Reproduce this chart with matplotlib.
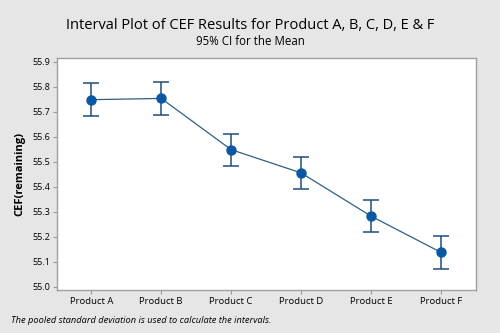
import matplotlib
matplotlib.use("Agg")
import matplotlib.pyplot as plt
import numpy as np

products = ["Product A", "Product B", "Product C", "Product D", "Product E", "Product F"]
means = [55.748, 55.753, 55.548, 55.455, 55.282, 55.137]
ci_half = [0.065, 0.065, 0.064, 0.064, 0.064, 0.065]
yticks = [55.0, 55.1, 55.2, 55.3, 55.4, 55.5, 55.6, 55.7, 55.8, 55.9]

plt.rcParams['font.family'] = ['Open Sans', 'DejaVu Sans']

fig = plt.figure(figsize=(5, 3.33), dpi=100, facecolor='#e6e6e6')
ax = fig.add_axes([0.114, 0.128, 0.838, 0.698])
ax.set_facecolor('white')

x = np.arange(len(products))
ax.plot(x, means, color='#2e5f85', lw=0.9, zorder=2)
ax.errorbar(x, means, yerr=ci_half, fmt='none', ecolor='#1f4e79',
            elinewidth=1.1, capsize=6, capthick=1.1, zorder=3)
ax.plot(x, means, 'o', color='#0a58a5', ms=6.5, zorder=4)

ax.set_xlim(-0.49, 5.5)
ax.set_ylim(54.985, 55.915)
ax.set_xticks(x)
ax.set_xticklabels(products, fontsize=6.8)
ax.set_yticks(yticks)
ax.set_yticklabels([f"{v:.1f}" for v in yticks], fontsize=6.6)
ax.tick_params(length=3, color='#999999', pad=2)
for s in ax.spines.values():
    s.set_color('#a0a0a0')
    s.set_linewidth(1.0)
ax.set_ylabel("CEF(remaining)", fontsize=8, fontweight='bold', labelpad=5)

fig.text(0.5, 0.912, "Interval Plot of CEF Results for Product A, B, C, D, E & F",
         ha='center', fontsize=10.5)
fig.text(0.5, 0.865, "95% CI for the Mean", ha='center', fontsize=8.3)
fig.text(0.022, 0.03, "The pooled standard deviation is used to calculate the intervals.",
         fontsize=6.7, style='italic')

fig.savefig("out.png", dpi=100, facecolor=fig.get_facecolor())
